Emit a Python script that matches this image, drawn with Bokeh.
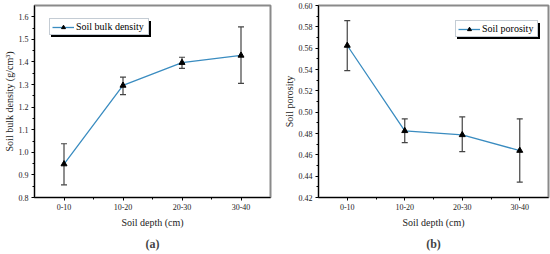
from bokeh.plotting import figure
from bokeh.models import (ColumnDataSource, Range1d, FixedTicker, Whisker, TeeHead,
                          Title, NumeralTickFormatter, Legend, LegendItem)
from bokeh.layouts import row
from bokeh.embed import file_html
from bokeh.resources import INLINE

depth = ["0-10", "10-20", "20-30", "30-40"]
bulk = [0.948, 1.296, 1.397, 1.429]
bulk_upper = [1.038, 1.333, 1.421, 1.555]
bulk_lower = [0.856, 1.255, 1.372, 1.305]
poro = [0.5625, 0.4825, 0.4787, 0.4640]
poro_upper = [0.5858, 0.4937, 0.4955, 0.4938]
poro_lower = [0.5390, 0.4715, 0.4630, 0.4345]

FONT = "'Liberation Serif', 'Times New Roman', serif"
LINE = "#3a8cc0"
H = 254


def style_legend(lg, lw):
    lg.padding = 2
    lg.spacing = 0
    lg.label_height = 10
    lg.label_width = lw
    lg.glyph_height = 10
    lg.glyph_width = 22
    lg.label_standoff = 2
    lg.label_text_font = FONT
    lg.label_text_font_size = "10px"
    lg.border_line_width = 1
    lg.margin = 0


def panel(vals, up, lo, label, ylabel, yr, ystep, fmt, caption, w, bl, br, leg_xy, lw):
    xs = list(range(len(depth)))
    src = ColumnDataSource(dict(x=xs, y=vals, upper=up, lower=lo))
    p = figure(width=w, height=H, output_backend="svg", toolbar_location=None,
               x_range=Range1d(-0.5, 3.5), y_range=Range1d(*yr),
               min_border_left=bl, min_border_right=br, min_border_top=5,
               min_border_bottom=30)
    p.xgrid.visible = False
    p.ygrid.visible = False
    p.outline_line_color = "#8a8a8a"
    p.outline_line_width = 2

    w_ = Whisker(base="x", upper="upper", lower="lower", source=src,
                 line_color="#444444", line_width=1.2,
                 upper_head=TeeHead(size=6, line_color="#444444", line_width=1.2),
                 lower_head=TeeHead(size=6, line_color="#444444", line_width=1.2))
    p.add_layout(w_)
    r_line = p.line("x", "y", source=src, line_color=LINE, line_width=1.3)
    r_mark = p.scatter("x", "y", source=src, marker="triangle", size=6, color="black")
    r_dummy = p.line("x", "y", source=src, line_alpha=0)

    # legend shadow: same fixed size, offset 2px right/down, no visible text
    shadow = Legend(items=[LegendItem(label=" ", renderers=[r_dummy])],
                    location=(leg_xy[0] + 2, leg_xy[1] - 2))
    style_legend(shadow, lw)
    shadow.background_fill_color = "black"
    shadow.background_fill_alpha = 1
    shadow.border_line_color = "black"
    shadow.label_text_alpha = 0
    p.add_layout(shadow)

    lg = Legend(items=[LegendItem(label=label, renderers=[r_line, r_mark])],
                location=leg_xy)
    style_legend(lg, lw)
    lg.background_fill_color = "white"
    lg.background_fill_alpha = 1
    lg.border_line_color = "#8a9aaa"
    lg.label_text_color = "black"
    p.add_layout(lg)

    p.xaxis.ticker = FixedTicker(ticks=xs, minor_ticks=[0.5, 1.5, 2.5])
    p.xaxis.major_label_overrides = {i: d for i, d in enumerate(depth)}
    nmaj = int(round((yr[1] - yr[0]) / ystep)) + 1
    majors = [yr[0] + i * ystep for i in range(nmaj) if yr[0] + i * ystep <= yr[1] + 1e-9]
    minors = [m + ystep / 2 for m in majors]
    p.yaxis.ticker = FixedTicker(ticks=majors, minor_ticks=minors)
    p.yaxis.formatter = NumeralTickFormatter(format=fmt)

    for ax in (p.xaxis[0], p.yaxis[0]):
        ax.axis_line_color = "black"
        ax.axis_line_width = 1
        ax.major_tick_line_color = "black"
        ax.minor_tick_line_color = "black"
        ax.major_tick_out = 3
        ax.major_tick_in = 0
        ax.minor_tick_out = 2
        ax.minor_tick_in = 0
        ax.major_label_text_font = FONT
        ax.major_label_text_font_size = "8px"
        ax.major_label_text_color = "#222"
        ax.axis_label_text_font = FONT
        ax.axis_label_text_font_size = "10px"
        ax.axis_label_text_font_style = "normal"
        ax.axis_label_text_color = "#222"
        ax.major_label_standoff = 3
        ax.axis_label_standoff = 4
    p.yaxis.axis_label_standoff = 1
    p.yaxis.major_label_standoff = 3
    p.xaxis.axis_label = "Soil depth (cm)"
    p.yaxis.axis_label = ylabel

    t = Title(text=caption, align="center", text_font=FONT, text_font_size="12px",
              text_font_style="bold", standoff=8)
    p.add_layout(t, "below")
    return p


pa = panel(bulk, bulk_upper, bulk_lower, "Soil bulk density",
           "Soil bulk density (g/cm³)", (0.8, 1.65), 0.1, "0.0", "(a)",
           278, 30, 8, (15, 162), 70)
pb = panel(poro, poro_upper, poro_lower, "Soil porosity",
           "Soil porosity", (0.42, 0.60), 0.02, "0.00", "(b)",
           272, 40, 2, (137, 160), 53)

layout = row(pa, pb)
open("out.html", "w").write(file_html(layout, INLINE))
